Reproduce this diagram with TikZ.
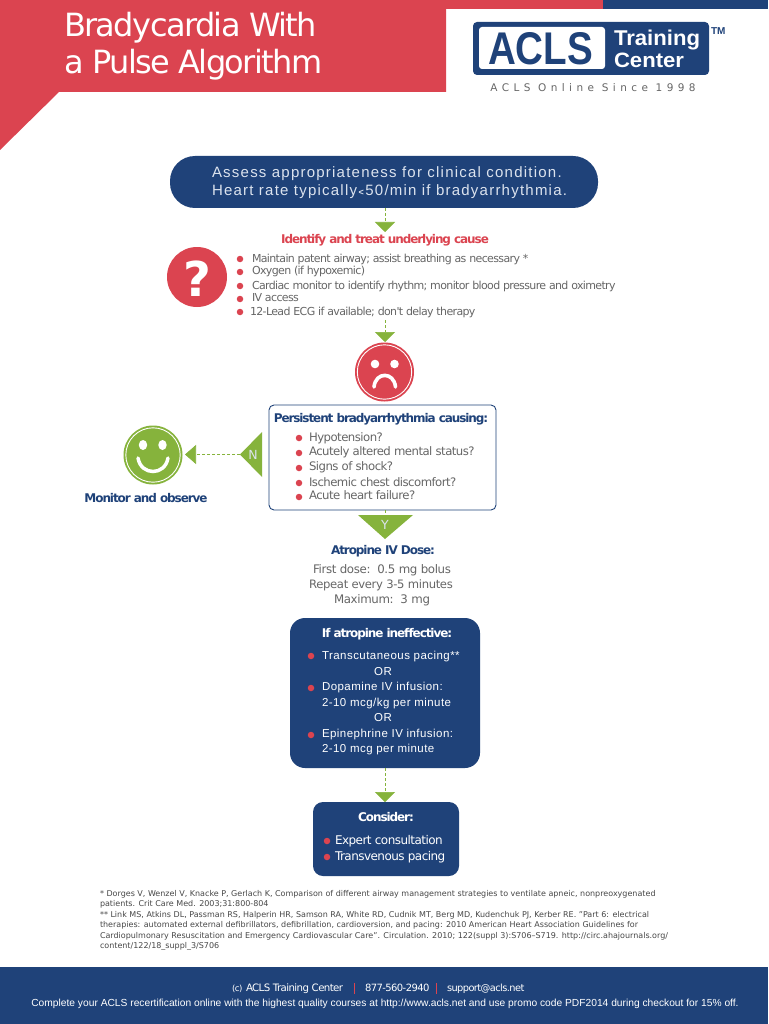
\documentclass[tikz,border=0pt]{standalone}
\usepackage{graphicx}
\usepackage{fontspec}
\setmainfont{DejaVu Sans}
\newfontfamily\lib{Liberation Sans}
\newfontfamily\libsp[LetterSpace=4]{Liberation Sans}
\newfontfamily\libpill[LetterSpace=8.2]{Liberation Sans}
\newfontfamily\tagf[LetterSpace=42]{DejaVu Sans}
\newfontfamily\tight[LetterSpace=-3]{DejaVu Sans}
\newfontfamily\tightc[LetterSpace=-5.8]{DejaVu Sans}
\newfontfamily\tightd[LetterSpace=-4.5]{DejaVu Sans}
\newfontfamily\tighttitle[LetterSpace=-5]{DejaVu Sans}
\newfontfamily\tightb[LetterSpace=-9]{DejaVu Sans Bold}
\usetikzlibrary{arrows.meta}
\definecolor{bluemain}{HTML}{1F4279}
\definecolor{redmain}{HTML}{DB4450}
\definecolor{greenmain}{HTML}{86B33C}
\definecolor{greytext}{HTML}{666666}
\definecolor{paletext}{HTML}{DCE3EE}
\newcommand{\fs}[1]{\fontsize{#1}{#1}\selectfont}
\tikzset{
  x=1pt,y=-1pt,
  every node/.style={inner sep=0pt,outer sep=0pt},
  txt/.style={anchor=mid west,yshift=-0.8pt,text=greytext,font=\tightc\fs{11}},
  ltxt/.style={anchor=mid west,yshift=-1pt,text=greytext,font=\tightd\fs{11.7}},
  ctxt/.style={anchor=mid,yshift=-1pt,text=greytext,font=\tight\fs{11.8}},
  wtxt/.style={anchor=mid west,yshift=-0.9pt,text=white,font=\libsp\fs{11.5}},
  wctxt/.style={anchor=mid,yshift=-0.9pt,text=white,font=\libsp\fs{11.5}},
  headb/.style={anchor=mid,yshift=-1.1pt,text=bluemain,font=\tightb\fs{12}},
  headw/.style={anchor=mid,yshift=-1.1pt,text=white,font=\tightb\fs{12}},
  headr/.style={anchor=mid,yshift=-1.1pt,text=redmain,font=\tightb\fs{12}},
  bul/.style={circle,fill=redmain,minimum size=6.5pt},
  flow/.style={greenmain,densely dashed,line width=0.6pt,-{Triangle[width=20pt,length=10pt]}},
  foot/.style={anchor=mid west,yshift=-0.1pt,text=greytext!70!black,font=\fs{8}},
  bar/.style={anchor=mid,yshift=-0.6pt,text=white,font=\lib\fs{10.24}},
  bartwo/.style={anchor=mid west,yshift=-0.6pt,text=white,font=\tightc\fs{10.2}},
  banner/.style={anchor=mid west,yshift=-7pt,text=white,font=\tighttitle\fs{32}},
  pilltext/.style={anchor=mid west,yshift=-1.9pt,text=paletext,font=\libpill\fs{15}},
  flagl/.style={text=paletext,font=\fs{12.5}},
}
\begin{document}
\begin{tikzpicture}
\useasboundingbox (0,0) rectangle (768,1024);
\fill[white] (0,0) rectangle (768,1024);
% banner
\fill[redmain] (0,0) -- (603,0) -- (603,9) -- (446,9) -- (446,92) -- (59,92) -- (0,150) -- cycle;
\fill[bluemain] (603,0) rectangle (768,9);
\node[banner] (t1) at (64,27) {Bradycardia With};
\node[banner] (t2) at (64,64) {a Pulse Algorithm};
% logo
\fill[bluemain,rounded corners=4pt] (473,22) rectangle (709,75);
\fill[white,rounded corners=3pt] (479,27) rectangle (605,69);
\node[anchor=base,text=bluemain] (lg1) at (540.5,65) {\resizebox{105pt}{32pt}{\lib\bfseries ACLS}};
\node[anchor=base west,text=white] (lg2) at (614,46) {\resizebox{86pt}{15.5pt}{\lib\bfseries Training}};
\node[anchor=base west,text=white] (lg3) at (614,68) {\resizebox{70pt}{14.5pt}{\lib\bfseries Center}};
\node[anchor=mid west,text=bluemain,font=\lib\bfseries\fs{10}] (tm) at (711,32) {TM};
\node[anchor=mid,yshift=-0.7pt,text=greytext,font=\tagf\fs{10.5}] (tag) at (593,88) {ACLS Online Since 1998};
% assess pill
\node[fill=bluemain,rounded corners=25pt,minimum width=428pt,minimum height=52pt] (pill) at (384,182) {};
\node[pilltext] (p1) at (212,173) {Assess appropriateness for clinical condition.};
\node[pilltext] (p2) at (212,191) {Heart rate typically{\fs{9}\bfseries\,<\,}50/min if bradyarrhythmia.};
\coordinate (tipa) at (385,232);
\draw[flow] (pill.south -| tipa) -- (tipa);
% identify
\node[headr] (idh) at (385,240) {Identify and treat underlying cause};
\node[circle,fill=redmain,minimum size=60pt] (q) at (197,277) {};
\node[text=white,font=\bfseries\fs{48}] (qm) at (197,278.5) {?};
\node[bul] (b1) at (240,259) {};
\node[txt] (i1) at (252,259) {Maintain patent airway; assist breathing as necessary *};
\node[bul] (b2) at (240,272) {};
\node[txt] (i2) at (252,271) {Oxygen (if hypoxemic)};
\node[bul] (b3) at (240,286) {};
\node[txt] (i3) at (252,285.5) {Cardiac monitor to identify rhythm; monitor blood pressure and oximetry};
\node[bul] (b4) at (240,299) {};
\node[txt] (i4) at (252,298) {IV access};
\node[bul] (b5) at (240,312) {};
\node[txt] (i5) at (250,311.5) {12-Lead ECG if available; don't delay therapy};
% sad face
\coordinate (tipb) at (385,342);
\coordinate (tailb) at (385,320);
\draw[flow] (tailb) -- (tipb);
\node[circle,fill=redmain,minimum size=59pt] (sad) at (384.5,372) {};
\draw[white,line width=0.9pt] (sad) circle (27.2);
\fill[white] (375,364) circle (4.3) (394.5,364) circle (4.3);
\draw[white,line width=3.6pt,line cap=round] (374,387) .. controls (375.5,371.5) and (394,371.5) .. (395.5,387);
% persistent box
\node[draw=bluemain,line width=0.9pt,fill=white,rounded corners=5pt,minimum width=227pt,minimum height=105pt] (box) at (382.5,457.5) {};
\node[headb] (bh) at (381,419) {Persistent bradyarrhythmia causing:};
\node[bul] (c1) at (299,438) {};
\node[ltxt] (d1) at (309,437.5) {Hypotension?};
\node[bul] (c2) at (299,453) {};
\node[ltxt] (d2) at (309,452) {Acutely altered mental status?};
\node[bul] (c3) at (299,468) {};
\node[ltxt] (d3) at (309,467) {Signs of shock?};
\node[bul] (c4) at (299,483) {};
\node[ltxt] (d4) at (309,482.5) {Ischemic chest discomfort?};
\node[bul] (c5) at (299,497) {};
\node[ltxt] (d5) at (309,496) {Acute heart failure?};
% N branch
\fill[greenmain] (262,432) -- (262,477) -- (240,454.5) -- cycle;
\node[flagl] (nl) at (253,454.5) {N};
\coordinate (ntail) at (240,454.5);
\node[circle,fill=greenmain,minimum size=59pt] (smile) at (153,455) {};
\draw[white,line width=0.9pt] (smile) circle (27.2);
\coordinate (stip) at (185,454.5);
\draw[flow,-{Triangle[width=19pt,length=11pt]}] (ntail) -- (stip);
\fill[white] (143,445) ellipse (4.2 and 5) (162.5,445) ellipse (4.2 and 5);
\draw[white,line width=3.5pt,line cap=round] (138,458) .. controls (141,476) and (165,476) .. (168,458);
\node[headb] (mon) at (146,499) {Monitor and observe};
% Y branch
\coordinate (ytip) at (385,539);
\fill[greenmain] (358,515) -- (413,515) -- (ytip) -- cycle;
\draw[greenmain,densely dashed,line width=0.6pt] (box.south -| ytip) -- (385,515);
\node[flagl] (yl) at (385,525) {Y};
\node[headb] (ah) at (383,551) {Atropine IV Dose:};
\node[ctxt] (a1) at (382,570) {First dose:\ \ 0.5 mg bolus};
\node[ctxt,font=\tight\fs{11.6}] (a2) at (381,585) {Repeat every 3-5 minutes};
\node[ctxt] (a3) at (382,600) {Maximum:\ \ 3 mg};
% atropine box
\node[fill=bluemain,rounded corners=15pt,minimum width=190pt,minimum height=150pt] (ine) at (385,693) {};
\node[headw] (ih) at (387,634) {If atropine ineffective:};
\node[bul] (e1) at (311,656) {};
\node[wtxt] (f1) at (322,656) {Transcutaneous pacing**};
\node[wctxt] (f2) at (383,671.5) {OR};
\node[bul] (e2) at (311,688) {};
\node[wtxt] (f3) at (322,687) {Dopamine IV infusion:};
\node[wtxt] (f4) at (322,702.5) {2-10 mcg/kg per minute};
\node[wctxt] (f5) at (383,718) {OR};
\node[bul] (e3) at (311,735) {};
\node[wtxt] (f6) at (322,733.5) {Epinephrine IV infusion:};
\node[wtxt] (f7) at (322,749) {2-10 mcg per minute};
% consider box
\node[fill=bluemain,rounded corners=10pt,minimum width=146pt,minimum height=74pt] (con) at (386,839) {};
\draw[flow] (ine.south -| tipb) -- (con.north -| tipb);
\node[headw] (ch) at (386,818) {Consider:};
\node[bul] (g1) at (327,841) {};
\node[txt,text=white,font=\tightd\fs{12}] (h1) at (335,840.5) {Expert consultation};
\node[bul] (g2) at (327,857) {};
\node[txt,text=white,font=\tightd\fs{12}] (h2) at (335,856.5) {Transvenous pacing};
% footnotes
\node[foot] (n1) at (100,894) {* Dorges V, Wenzel V, Knacke P, Gerlach K, Comparison of different airway management strategies to ventilate apneic, nonpreoxygenated};
\node[foot] (n2) at (100,904) {patients. Crit Care Med. 2003;31:800-804};
\node[foot] (n3) at (100,914.5) {** Link MS, Atkins DL, Passman RS, Halperin HR, Samson RA, White RD, Cudnik MT, Berg MD, Kudenchuk PJ, Kerber RE. "Part 6: electrical};
\node[foot] (n4) at (100,925) {therapies: automated external defibrillators, defibrillation, cardioversion, and pacing: 2010 American Heart Association Guidelines for};
\node[foot] (n5) at (100,935.5) {Cardiopulmonary Resuscitation and Emergency Cardiovascular Care". Circulation. 2010; 122(suppl 3):S706--S719. http://circ.ahajournals.org/};
\node[foot] (n6) at (100,946) {content/122/18\_suppl\_3/S706};
% footer
\fill[bluemain] (0,967) rectangle (768,1024);
\node[bartwo,font=\tightc\fs{8.5}] (fc) at (232,988) {(c)};
\node[bartwo] (fa) at (246,988) {ACLS Training Center};
\fill[redmain] (353.5,983) rectangle (354.7,994);
\node[bartwo,font=\tightc\fs{10}] (fb) at (365,988) {877-560-2940};
\fill[redmain] (436,983) rectangle (437.2,994);
\node[bartwo,font=\tightc\fs{9.8}] (fd) at (447,988) {support@acls.net};
\node[bar] (f2a) at (385,1003) {Complete your ACLS recertification online with the highest quality courses at http://www.acls.net and use promo code PDF2014 during checkout for 15\% off.};
\end{tikzpicture}
\end{document}
